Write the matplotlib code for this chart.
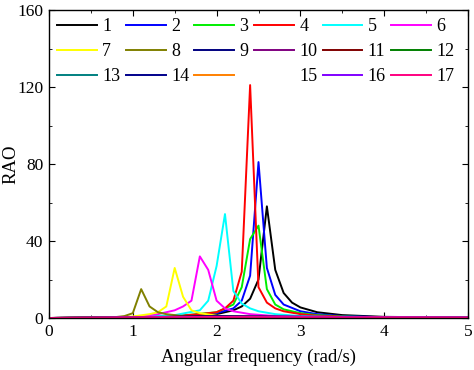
import matplotlib
matplotlib.use("Agg")
import matplotlib.pyplot as plt
from matplotlib.lines import Line2D
from matplotlib.ticker import MultipleLocator

plt.rcParams["font.family"] = ["Liberation Serif", "DejaVu Serif"]

# ---------------------------------------------------------------------------
# Data
# ---------------------------------------------------------------------------
LABELS = [str(i) for i in range(1, 18)]
COLORS = ["#000000", "#0000ff", "#00ee00", "#ff0000", "#00ffff", "#ff00ff",
          "#ffff00", "#808000", "#000080", "#800080", "#800000", "#008000",
          "#008080", "#00008b", "#ff8000", "#8000ff", "#ff0080"]

x1 = [0, 1.0, 1.5, 2.0, 2.2, 2.3, 2.4, 2.5, 2.6, 2.7, 2.8, 2.9, 3.0, 3.2, 3.5, 4.0, 5.0]
y1 = [0, 0.3, 0.8, 2.0, 4.0, 6.0, 10, 20, 58, 25, 13, 8, 5.5, 3.0, 1.5, 0.6, 0.2]

x2 = [0, 1.0, 1.5, 2.0, 2.2, 2.3, 2.4, 2.5, 2.6, 2.7, 2.8, 3.0, 3.2, 3.5, 4.0, 5.0]
y2 = [0, 0.3, 0.8, 2.5, 5.0, 9.0, 22, 81, 26, 12, 7.0, 3.5, 2.0, 1.0, 0.4, 0.1]

x3 = [0, 1.0, 1.5, 2.0, 2.2, 2.3, 2.4, 2.5, 2.6, 2.7, 2.8, 3.0, 3.2, 3.5, 4.0, 5.0]
y3 = [0, 0.3, 0.9, 3.0, 7.0, 16, 41, 48, 15, 7.0, 4.5, 2.5, 1.5, 0.8, 0.3, 0.1]

x4 = [0, 1.0, 1.5, 1.8, 2.0, 2.1, 2.2, 2.3, 2.4, 2.5, 2.6, 2.7, 2.8, 3.0, 3.2, 3.5, 4.0, 5.0]
y4 = [0, 0.3, 1.0, 2.0, 3.0, 5.0, 9.0, 24, 121, 16, 8.0, 5.0, 3.5, 2.0, 1.2, 0.6, 0.3, 0.1]

x5 = [0, 1.0, 1.5, 1.8, 1.9, 2.0, 2.1, 2.2, 2.3, 2.4, 2.5, 2.7, 3.0, 3.5, 4.0, 5.0]
y5 = [0, 0.4, 1.5, 4.0, 9.0, 27, 54, 14, 7.5, 5.0, 3.5, 2.0, 1.0, 0.4, 0.2, 0.1]

x6 = [0, 1.0, 1.3, 1.5, 1.6, 1.7, 1.8, 1.9, 2.0, 2.1, 2.2, 2.4, 2.7, 3.0, 3.5, 4.0, 5.0]
y6 = [0, 0.5, 2.0, 4.0, 6.0, 9.0, 32, 25, 9.0, 5.0, 3.5, 2.0, 1.0, 0.5, 0.2, 0.1, 0]

x7 = [0, 0.8, 1.0, 1.2, 1.3, 1.4, 1.5, 1.6, 1.7, 1.8, 2.0, 2.3, 2.7, 3.0, 4.0, 5.0]
y7 = [0, 0.3, 0.8, 2.0, 3.0, 6.0, 26, 11, 4.0, 2.5, 1.2, 0.6, 0.3, 0.2, 0.1, 0]

x8 = [0, 0.6, 0.8, 0.9, 1.0, 1.1, 1.2, 1.3, 1.4, 1.6, 2.0, 2.5, 3.0, 5.0]
y8 = [0, 0.2, 0.5, 1.0, 2.5, 15, 6.0, 3.0, 2.0, 1.0, 0.4, 0.2, 0.1, 0]

x_low = [0, 1.0, 2.0, 3.0, 4.0, 5.0]
y9  = [0, 0.3, 0.8, 0.6, 0.3, 0.1]
y10 = [0, 0.2, 0.6, 0.7, 0.4, 0.2]
y11 = [0, 0.4, 1.0, 0.5, 0.2, 0.1]
y12 = [0, 0.3, 0.7, 0.5, 0.3, 0.1]
y13 = [0, 0.2, 0.5, 0.6, 0.3, 0.2]
y14 = [0, 0.3, 0.9, 0.4, 0.2, 0.1]
y15 = [0, 0.2, 0.4, 0.5, 0.3, 0.2]
y16 = [0, 0.3, 0.6, 0.6, 0.4, 0.3]
y17 = [0, 0.3, 0.5, 0.4, 0.3, 0.2]

SERIES = [(x1, y1), (x2, y2), (x3, y3), (x4, y4), (x5, y5), (x6, y6),
          (x7, y7), (x8, y8), (x_low, y9), (x_low, y10), (x_low, y11),
          (x_low, y12), (x_low, y13), (x_low, y14), (x_low, y15),
          (x_low, y16), (x_low, y17)]

# ---------------------------------------------------------------------------
# Plot
# ---------------------------------------------------------------------------
fig = plt.figure(figsize=(4.74, 3.70), dpi=100)
ax = fig.add_axes([49 / 474, 1 - 318 / 370, (468 - 49) / 474, (318 - 10) / 370])

lines = []
for (xs, ys), c, lab in zip(SERIES, COLORS, LABELS):
    ln, = ax.plot(xs, ys, color=c, linewidth=1.4, label=lab)
    lines.append(ln)

ax.set_xlim(0, 5)
ax.set_ylim(0, 160)
ax.xaxis.set_major_locator(MultipleLocator(1))
ax.xaxis.set_minor_locator(MultipleLocator(0.5))
ax.yaxis.set_major_locator(MultipleLocator(40))
ax.yaxis.set_minor_locator(MultipleLocator(20))
ax.tick_params(which="both", direction="in", top=True, right=True,
               labelsize=12.5, pad=4)
ax.tick_params(which="major", length=4)
ax.tick_params(which="minor", length=2.5)
for s in ax.spines.values():
    s.set_linewidth(1.0)

ax.set_xlabel("Angular frequency (rad/s)", fontsize=13.5, labelpad=6)
ax.set_ylabel("RAO", fontsize=13.5)
ax.yaxis.set_label_coords(-0.07, 0.5)

# legend laid out row-wise like the original (with its odd 3rd row)
blank = Line2D([], [], color="none")
rows = [lines[0:6], lines[6:12],
        [lines[12], lines[13], lines[14], blank, lines[15], lines[16]]]
row_labels = [LABELS[0:6], LABELS[6:12], ["13", "14", "", "15", "16", "17"]]
ncol = 6
handles, labels = [], []
for c in range(ncol):
    for r in range(3):
        handles.append(rows[r][c])
        labels.append(row_labels[r][c])
ax.legend(handles, labels, ncol=ncol, loc="upper left", frameon=False,
          fontsize=13, handlelength=2.2, handletextpad=0.3,
          columnspacing=0.3, labelspacing=0.45, borderpad=0.15,
          borderaxespad=0.3)

fig.savefig("out.png", dpi=100)
